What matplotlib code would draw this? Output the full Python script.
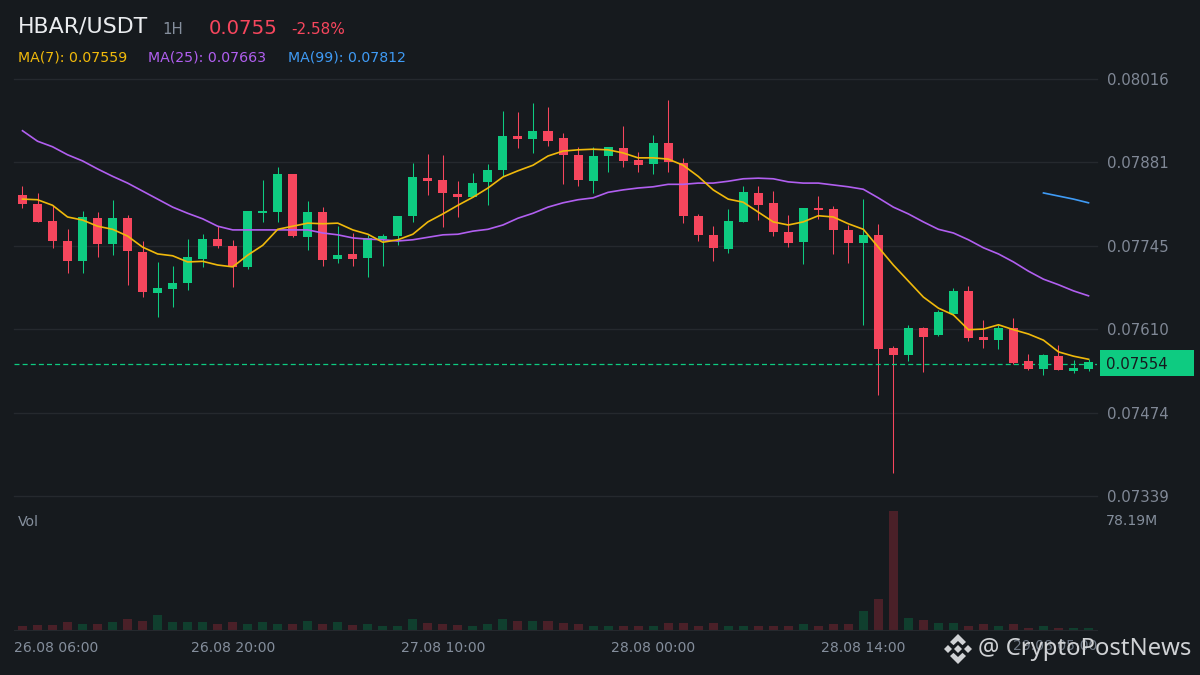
import numpy as np
import matplotlib
matplotlib.use("Agg")
import matplotlib.pyplot as plt
from matplotlib.patches import Polygon, Rectangle

# prices in 1e-5 USDT, one candle per hour starting 26.08 06:00
candle_open = np.array([7828,7813,7785,7753,7720,7790,7748,7790,7735,7669,7675,7685,7724,7756,7745,7711,7798,7800,7862,7759,
    7800,7724,7732,7725,7756,7761,7794,7855,7852,7829,7824,7849,7868,7923,7919,7932,7920,7893,7850,7891,
    7904,7884,7878,7912,7880,7794,7763,7740,7784,7831,7815,7768,7751,7807,7805,7771,7750,7763,7579,7568,
    7612,7600,7634,7672,7597,7592,7612,7558,7545,7566,7542,7545]) / 1e5
candle_close = np.array([7813,7784,7753,7720,7792,7748,7790,7737,7670,7677,7685,7727,7756,7745,7711,7802,7802,7862,7761,7800,
    7722,7730,7724,7758,7761,7794,7857,7850,7831,7824,7847,7868,7923,7919,7932,7915,7893,7852,7891,7906,
    7883,7876,7912,7881,7794,7763,7742,7785,7832,7811,7768,7750,7807,7803,7771,7750,7763,7578,7568,7612,
    7597,7638,7672,7596,7592,7612,7555,7545,7568,7544,7547,7557]) / 1e5
candle_high = np.array([7842,7831,7811,7772,7802,7800,7820,7795,7753,7719,7712,7756,7764,7777,7755,7802,7852,7873,7862,7818,
    7808,7777,7766,7763,7764,7794,7880,7894,7893,7850,7863,7878,7964,7962,7977,7971,7928,7906,7906,7906,
    7940,7897,7925,7982,7888,7797,7777,7805,7842,7842,7834,7795,7807,7826,7810,7779,7821,7781,7583,7617,
    7613,7641,7677,7680,7625,7617,7628,7570,7570,7584,7560,7561]) / 1e5
candle_low = np.array([7807,7784,7742,7701,7701,7727,7730,7682,7662,7630,7646,7673,7711,7742,7678,7707,7784,7784,7759,7738,
    7712,7717,7712,7694,7712,7746,7784,7828,7776,7792,7824,7811,7858,7904,7896,7907,7845,7842,7831,7865,
    7873,7865,7862,7865,7782,7753,7720,7733,7784,7787,7761,7743,7716,7789,7732,7717,7617,7503,7376,7558,
    7540,7599,7634,7591,7579,7578,7553,7544,7535,7544,7539,7542]) / 1e5

ma7 = np.array([7821,7820,7811,7792,7787,7777,7772,7761,7743,7732,7729,7719,7720,7714,7711,7730,7746,7772,7777,7782,
    7781,7782,7771,7764,7751,7755,7764,7784,7797,7811,7824,7839,7857,7867,7876,7891,7899,7901,7902,7901,
    7896,7888,7888,7886,7876,7858,7836,7821,7816,7800,7784,7779,7784,7794,7792,7781,7772,7743,7714,7688,
    7662,7644,7633,7609,7610,7617,7609,7602,7592,7573,7566,7561]) / 1e5
ma25 = np.array([7932,7915,7906,7893,7883,7870,7858,7847,7834,7821,7808,7798,7789,7777,7771,7771,7771,7771,7771,7771,
    7766,7763,7758,7756,7755,7753,7755,7759,7763,7764,7769,7772,7779,7790,7798,7808,7815,7820,7823,7832,
    7836,7839,7841,7845,7845,7847,7847,7850,7854,7855,7854,7849,7847,7847,7844,7841,7837,7823,7808,7797,
    7784,7772,7766,7755,7742,7732,7719,7704,7691,7682,7672,7664]) / 1e5
ma99 = np.array([7831,7826,7821,7815]) / 1e5
ma99_start = 68

# volume in millions
volume = np.array([2.2,2.8,2.8,4.8,3.5,3.5,4.8,6.8,5.5,9.5,4.8,4.8,4.8,3.5,4.8,3.5,4.8,3.5,3.5,5.5,
    3.5,4.8,2.8,3.5,2.2,2.2,6.8,4.2,3.5,2.8,2.2,3.5,6.8,5.5,5.5,5.5,4.2,3.5,2.2,2.0,
    2.0,2.6,2.0,4.0,4.6,2.0,4.0,2.0,2.0,2.0,2.6,2.0,3.3,2.6,3.3,3.3,11.9,19.9,78.19,7.3,
    6.0,4.6,4.0,2.6,3.3,2.0,3.3,1.3,2.0,1.3,1.3,0.7])

price_ticks = [0.08016, 0.07881, 0.07745, 0.07610, 0.07474, 0.07339]
last_price = 0.07554
time_ticks = [14, 28, 42, 56]
time_labels = ["26.08 20:00", "27.08 10:00", "28.08 00:00", "28.08 14:00"]

BG = "#161a1e"
GRID = "#25292e"
GREY = "#848e9c"
GREEN = "#0ecb81"
RED = "#f6465d"
YELLOW = "#f0b90b"
PURPLE = "#b15ff0"
BLUE = "#3f9bf5"

W, H = 1200, 675
fig = plt.figure(figsize=(12, 6.75), dpi=100, facecolor=BG)

x = np.arange(len(candle_open))
xlim = (-0.566, 71.565)
up = candle_close >= candle_open
colors = np.where(up, GREEN, RED)

ax = fig.add_axes([14 / W, 1 - 496 / H, 1083 / W, 417 / H], facecolor=BG)
ax.vlines(x, candle_low, candle_high, colors=colors, linewidth=0.75, zorder=2, snap=True)
ax.bar(x, np.abs(candle_close - candle_open), bottom=np.minimum(candle_open, candle_close),
       width=0.6, color=colors, linewidth=0, zorder=3)
ax.axhline(last_price, color=GREEN, lw=0.9, ls=(0, (4, 2.5)), zorder=2.5)
ax.plot(x, ma7, color=YELLOW, lw=1.2, zorder=5)
ax.plot(x, ma25, color=PURPLE, lw=1.2, zorder=4)
ax.plot(x[ma99_start:], ma99, color=BLUE, lw=1.2, zorder=4)

ax.set_xlim(xlim)
ax.set_ylim(price_ticks[-1], price_ticks[0])
ax.set_xticks([])
ax.yaxis.tick_right()
ax.set_yticks(price_ticks, labels=["%.5f" % p for p in price_ticks])
ax.tick_params(axis="y", length=0, pad=7, labelsize=10.8, labelcolor="#808896")
ax.grid(axis="y", color=GRID, lw=1, clip_on=False)
ax.set_axisbelow(True)
for line in ax.get_ygridlines():
    line.set_clip_on(False)
for s in ax.spines.values():
    s.set_visible(False)

# last price tag
fig.add_artist(Rectangle((1100 / W, 1 - 376 / H), 94 / W, 26 / H, transform=fig.transFigure,
                         facecolor=GREEN, edgecolor="none"))
fig.text(1106 / W, 1 - 364.5 / H, "%.5f" % last_price, color=BG, fontsize=10.8, va="center", ha="left")

# volume pane
ax_vol = fig.add_axes([14 / W, 1 - 629.5 / H, 1083 / W, 118.5 / H], facecolor=BG)
vol_colors = np.where(up, "#103f2e", "#4a2028")
ax_vol.bar(x, volume, width=0.6, color=vol_colors, linewidth=0)
ax_vol.set_xlim(xlim)
ax_vol.set_ylim(0, volume.max())
ax_vol.set_yticks([])
ax_vol.set_xticks(time_ticks, labels=time_labels)
ax_vol.tick_params(axis="x", length=0, pad=8, labelsize=10.1, labelcolor=GREY)
for name, s in ax_vol.spines.items():
    s.set_visible(name == "bottom")
    s.set_color(GRID)
ax_vol.text(0, -18 / 118.5, "26.08 06:00", transform=ax_vol.transAxes, ha="left", va="center",
            color=GREY, fontsize=10.1)
ax_vol.text(1, -17 / 118.5, "29.08 05:00", transform=ax_vol.transAxes, ha="right", va="center",
            color=GREY, fontsize=10.1, alpha=0.8)

fig.text(18 / W, 1 - 522.5 / H, "Vol", color=GREY, fontsize=10.1, va="center")
fig.text(1106 / W, 1 - 521 / H, "78.19M", color=GREY, fontsize=10.1, va="center")

# header
def header(px, py, s, color, size):
    fig.text(px / W, 1 - py / H, s, color=color, fontsize=size, va="center", ha="left")

header(18, 27, "HBAR/USDT", "#eaecef", 15.9)
header(162, 30, "1H", GREY, 10.8)
header(209, 28, "0.0755", RED, 14.2)
header(291, 29, "-2.58%", RED, 11)
header(18, 57.5, "MA(7): 0.07559", YELLOW, 10.2)
header(148, 57.5, "MA(25): 0.07663", PURPLE, 10.2)
header(288, 57.5, "MA(99): 0.07812", BLUE, 10.2)

# watermark
over = fig.add_axes([0, 0, 1, 1], facecolor="none")
over.set_xlim(0, W)
over.set_ylim(H, 0)
over.axis("off")
LOGO = "#d0d2d5"
cx, cy = 958, 649
for pts in [
    [(0, -15), (8, -7), (4.5, -3.8), (0, -8), (-4.5, -3.8), (-8, -7)],
    [(0, 15), (8, 7), (4.5, 3.8), (0, 8), (-4.5, 3.8), (-8, 7)],
    [(-14, 0), (-10, -4), (-6, 0), (-10, 4)],
    [(14, 0), (10, -4), (6, 0), (10, 4)],
    [(0, -4), (4, 0), (0, 4), (-4, 0)],
]:
    over.add_patch(Polygon([(cx + a, cy + b) for a, b in pts], closed=True, facecolor=LOGO, edgecolor="none"))
over.text(978, 649, "@ CryptoPostNews", color=LOGO, fontsize=17.2, family="Noto Sans", va="center", ha="left")

fig.savefig("out.png", dpi=100, facecolor=BG)
